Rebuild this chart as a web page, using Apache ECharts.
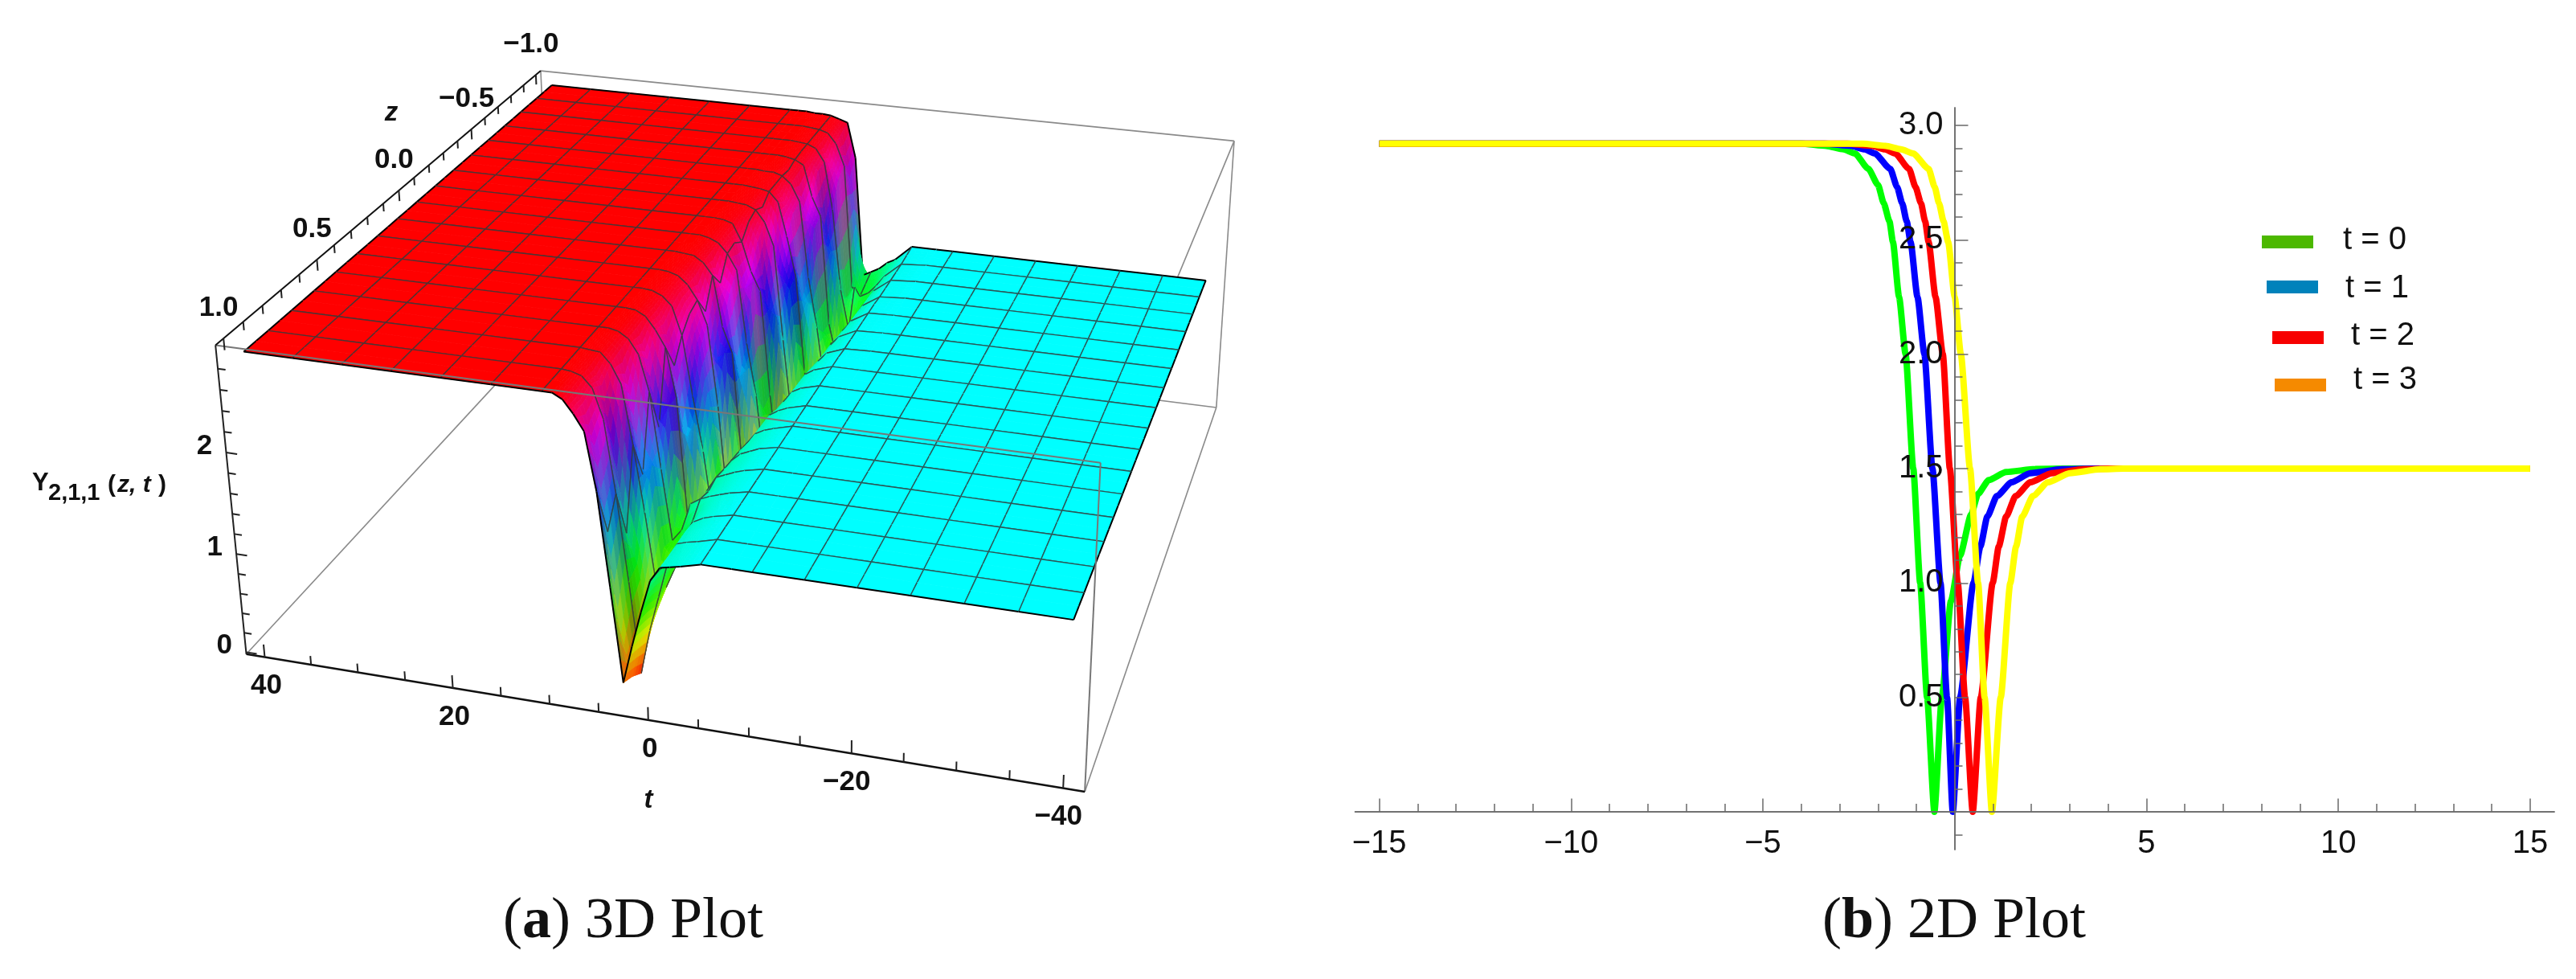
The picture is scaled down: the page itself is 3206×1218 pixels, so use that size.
<!DOCTYPE html>
<html>
<head>
<meta charset="utf-8">
<title>3D and 2D plot</title>
<script src="https://cdn.jsdelivr.net/npm/echarts@6/dist/echarts.min.js"></script>
<style>
  html, body { margin: 0; padding: 0; background: #fff; }
  #chart { width: 3206px; height: 1218px; }
</style>
</head>
<body>
<div id="chart"></div>
<script>
// ---- 2D plot values ----
const t0X = [-15, -4, -3.35, -2.9, -2.6, -2.25, -2.0, -1.85, -1.7, -1.61, -1.45, -1.28, -1.08, -0.9, -0.72, -0.53, -0.335, -0.1, 0.14, 0.43, 0.61, 0.89, 1.34, 2.1, 3, 15];
const t0Y = [2.92, 2.92, 2.91, 2.895, 2.877, 2.81, 2.74, 2.66, 2.58, 2.49, 2.25, 2.0, 1.5, 1.0, 0.5, 0, 0.5, 0.92, 1.12, 1.3, 1.39, 1.45, 1.485, 1.498, 1.5, 1.5];
const t1X = [-15, -3.4, -2.7, -2.35, -2.08, -1.68, -1.5, -1.37, -1.25, -1.15, -0.97, -0.79, -0.58, -0.37, -0.2, -0.05, 0.14, 0.49, 0.67, 0.85, 1.1, 1.48, 1.97, 2.8, 3.6, 15];
const t1Y = [2.92, 2.92, 2.91, 2.895, 2.877, 2.81, 2.73, 2.66, 2.58, 2.49, 2.25, 2.0, 1.5, 1.0, 0.5, 0, 0.5, 1.0, 1.16, 1.29, 1.38, 1.44, 1.48, 1.497, 1.5, 1.5];
const t2X = [-15, -2.8, -2.15, -1.82, -1.55, -1.19, -1.02, -0.88, -0.77, -0.68, -0.5, -0.31, -0.126, 0.08, 0.27, 0.47, 0.68, 0.99, 1.15, 1.34, 1.59, 1.97, 2.53, 3.37, 4, 15];
const t2Y = [2.92, 2.92, 2.91, 2.895, 2.877, 2.81, 2.73, 2.66, 2.58, 2.49, 2.25, 2.0, 1.5, 1.0, 0.5, 0, 0.5, 1.0, 1.16, 1.29, 1.38, 1.44, 1.48, 1.497, 1.5, 1.5];
const t3X = [-15, -2.4, -1.8, -1.4, -1.08, -0.68, -0.52, -0.41, -0.29, -0.17, 0, 0.16, 0.4, 0.61, 0.78, 0.97, 1.2, 1.45, 1.6, 1.76, 2.04, 2.43, 3.0, 3.8, 4.4, 15];
const t3Y = [2.92, 2.92, 2.91, 2.895, 2.877, 2.81, 2.73, 2.66, 2.58, 2.49, 2.25, 2.0, 1.5, 1.0, 0.5, 0, 0.5, 1.0, 1.16, 1.29, 1.38, 1.44, 1.48, 1.497, 1.5, 1.5];

const curveColors = ['#00ff00', '#0000ff', '#ff0000', '#ffff00'];
const legendNames = ['t = 0', 't = 1', 't = 2', 't = 3'];
const legendColors = ['#4cb800', '#0082bb', '#f70000', '#f58a00'];

const xMajorTicks = [-15, -10, -5, 5, 10, 15];
const xMinorTicks = [-14, -13, -12, -11, -9, -8, -7, -6, -4, -3, -2, -1, 1, 2, 3, 4, 6, 7, 8, 9, 11, 12, 13, 14];
const yMajorTicks = [0.5, 1, 1.5, 2, 2.5, 3];
const yMinorTicks = [-0.1, 0.1, 0.2, 0.3, 0.4, 0.6, 0.7, 0.8, 0.9, 1.1, 1.2, 1.3, 1.4, 1.6, 1.7, 1.8, 1.9, 2.1, 2.2, 2.3, 2.4, 2.6, 2.7, 2.8, 2.9];

// ---- 3D surface values ----
const plateauHigh = 2.92;
const plateauLow = 1.5;
const highT = [40, 35, 30, 25, 20, 15];
const wallT = [10, 9, 8, 7, 6, 5, 4, 3, 2, 1, 0, -1, -2, -3, -5, -8];
const lowT = [-10, -15, -20, -25, -30, -35, -40];
const meshT = [35, 30, 25, 20, 15, 10, 5, 0, -5, -10, -15, -20, -25, -30, -35];
const zRows = [1, 0.9375, 0.875, 0.8125, 0.75, 0.6875, 0.625, 0.5625, 0.5, 0.4375, 0.375, 0.3125, 0.25, 0.1875, 0.125, 0.0625, 0,
  -0.0625, -0.125, -0.1875, -0.25, -0.3125, -0.375, -0.4375, -0.5, -0.5625, -0.625, -0.6875, -0.75, -0.8125, -0.875, -0.9375, -1];
// one row per zRows entry, one column per wallT entry
const wallY = [
  [2.92, 2.92, 2.87, 2.75, 2.60, 2.05, 1.15, 0.22, 0.60, 0.95, 1.27, 1.41, 1.43, 1.45, 1.50, 1.50],
  [2.92, 2.92, 2.87, 2.74, 2.35, 1.55, 0.55, 0.15, 0.55, 0.92, 1.25, 1.40, 1.43, 1.45, 1.50, 1.50],
  [2.92, 2.91, 2.88, 2.78, 2.50, 1.80, 0.95, 0.05, 0.50, 0.85, 1.20, 1.40, 1.43, 1.45, 1.50, 1.50],
  [2.92, 2.91, 2.88, 2.70, 2.10, 1.30, 1.00, 0.40, 0.60, 0.90, 1.22, 1.40, 1.43, 1.46, 1.50, 1.50],
  [2.92, 2.91, 2.90, 2.80, 2.62, 2.05, 1.40, 0.68, 0.68, 0.90, 1.20, 1.38, 1.43, 1.46, 1.50, 1.50],
  [2.92, 2.91, 2.90, 2.82, 2.40, 1.65, 1.75, 0.95, 0.85, 1.05, 1.25, 1.38, 1.43, 1.46, 1.50, 1.50],
  [2.92, 2.92, 2.90, 2.84, 2.70, 2.35, 1.60, 0.90, 1.02, 1.30, 1.36, 1.40, 1.43, 1.46, 1.50, 1.50],
  [2.92, 2.92, 2.91, 2.85, 2.55, 1.90, 2.10, 1.20, 0.90, 1.15, 1.32, 1.39, 1.43, 1.46, 1.50, 1.50],
  [2.92, 2.92, 2.91, 2.86, 2.74, 2.58, 2.10, 0.78, 0.80, 1.20, 1.35, 1.39, 1.43, 1.46, 1.50, 1.50],
  [2.92, 2.92, 2.91, 2.86, 2.70, 2.30, 1.55, 1.75, 0.70, 1.05, 1.32, 1.39, 1.42, 1.46, 1.50, 1.50],
  [2.92, 2.92, 2.91, 2.87, 2.78, 2.50, 1.90, 1.35, 0.62, 1.00, 1.30, 1.38, 1.42, 1.46, 1.50, 1.50],
  [2.92, 2.92, 2.91, 2.88, 2.82, 2.62, 2.25, 1.70, 1.05, 0.80, 1.28, 1.38, 1.42, 1.45, 1.50, 1.50],
  [2.92, 2.92, 2.91, 2.88, 2.80, 2.66, 2.42, 1.60, 0.48, 0.85, 1.25, 1.37, 1.42, 1.45, 1.50, 1.50],
  [2.92, 2.92, 2.91, 2.89, 2.80, 2.45, 1.85, 2.05, 1.25, 0.45, 1.20, 1.36, 1.41, 1.45, 1.50, 1.50],
  [2.92, 2.92, 2.91, 2.90, 2.84, 2.72, 2.20, 1.95, 0.70, 0.32, 1.15, 1.35, 1.41, 1.45, 1.50, 1.50],
  [2.92, 2.92, 2.92, 2.90, 2.85, 2.55, 2.45, 1.60, 1.70, 0.55, 1.00, 1.30, 1.40, 1.45, 1.50, 1.50],
  [2.92, 2.92, 2.92, 2.90, 2.86, 2.76, 2.60, 1.85, 1.30, 0.35, 0.85, 1.28, 1.40, 1.45, 1.50, 1.50],
  [2.92, 2.92, 2.92, 2.91, 2.87, 2.78, 2.30, 2.40, 1.05, 0.85, 0.60, 1.22, 1.39, 1.44, 1.50, 1.50],
  [2.92, 2.92, 2.92, 2.91, 2.88, 2.70, 2.40, 2.20, 1.10, 0.25, 0.90, 1.20, 1.38, 1.44, 1.50, 1.50],
  [2.92, 2.92, 2.92, 2.91, 2.89, 2.82, 2.62, 1.95, 1.85, 0.75, 0.55, 1.15, 1.35, 1.43, 1.50, 1.50],
  [2.92, 2.92, 2.92, 2.91, 2.90, 2.86, 2.74, 2.50, 1.50, 0.60, 0.50, 1.10, 1.32, 1.42, 1.49, 1.50],
  [2.92, 2.92, 2.92, 2.91, 2.90, 2.80, 2.50, 2.10, 1.95, 1.20, 0.30, 1.05, 1.31, 1.41, 1.49, 1.50],
  [2.92, 2.92, 2.92, 2.91, 2.90, 2.88, 2.78, 2.42, 2.00, 0.95, 0.40, 0.95, 1.30, 1.40, 1.49, 1.50],
  [2.92, 2.92, 2.92, 2.91, 2.90, 2.88, 2.70, 2.58, 1.65, 1.60, 0.85, 0.70, 1.28, 1.39, 1.49, 1.50],
  [2.92, 2.92, 2.92, 2.91, 2.91, 2.88, 2.80, 2.62, 1.80, 1.25, 0.55, 0.80, 1.25, 1.38, 1.49, 1.50],
  [2.92, 2.92, 2.92, 2.92, 2.91, 2.86, 2.82, 2.35, 2.25, 1.10, 1.00, 0.65, 1.22, 1.37, 1.49, 1.50],
  [2.92, 2.92, 2.92, 2.92, 2.91, 2.89, 2.84, 2.50, 2.30, 1.10, 0.70, 0.85, 1.20, 1.36, 1.48, 1.50],
  [2.92, 2.92, 2.92, 2.92, 2.91, 2.90, 2.82, 2.70, 1.90, 1.75, 0.95, 0.80, 1.18, 1.35, 1.48, 1.50],
  [2.92, 2.92, 2.92, 2.92, 2.91, 2.90, 2.86, 2.72, 2.20, 1.30, 0.85, 1.00, 1.15, 1.34, 1.48, 1.50],
  [2.92, 2.92, 2.92, 2.92, 2.91, 2.90, 2.85, 2.62, 2.45, 1.10, 1.25, 0.95, 1.18, 1.33, 1.48, 1.50],
  [2.92, 2.92, 2.92, 2.92, 2.91, 2.90, 2.87, 2.76, 2.52, 1.15, 1.05, 1.10, 1.20, 1.32, 1.48, 1.50],
  [2.92, 2.92, 2.92, 2.92, 2.91, 2.90, 2.88, 2.80, 2.30, 1.60, 1.10, 1.12, 1.24, 1.33, 1.49, 1.50],
  [2.92, 2.92, 2.92, 2.91, 2.91, 2.90, 2.87, 2.84, 2.45, 1.10, 1.15, 1.20, 1.28, 1.33, 1.50, 1.50]
];

const tTickMajor = [40, 20, 0, -20, -40];
const tTickMinor = [35, 30, 25, 15, 10, 5, -5, -10, -15, -25, -30, -35];
const zTickMajor = [1, 0.5, 0, -0.5, -1];
const zTickMinor = [0.9, 0.8, 0.7, 0.6, 0.4, 0.3, 0.2, 0.1, -0.1, -0.2, -0.3, -0.4, -0.6, -0.7, -0.8, -0.9];
const yTickMajor = [0, 1, 2];
const yTickMinor = [0.2, 0.4, 0.6, 0.8, 1.2, 1.4, 1.6, 1.8, 2.2, 2.4, 2.6, 2.8];

// ---- view box of the 3D plot: data limits and where the corners land on the page ----
const boxT = 42;
const boxZ = 1.04;
const boxYMin = -0.02;
const boxYMax = 3.02;
const boxCorners = [
  [boxT, boxZ, boxYMax, 269.6, 429.9],
  [boxT, -boxZ, boxYMax, 670.5, 90],
  [-boxT, -boxZ, boxYMax, 1537.5, 174.8],
  [-boxT, boxZ, boxYMax, 1369.6, 573.4],
  [boxT, boxZ, boxYMin, 305.4, 815.7],
  [boxT, -boxZ, boxYMin, 689, 399],
  [-boxT, -boxZ, boxYMin, 1512.5, 509.6],
  [-boxT, boxZ, boxYMin, 1350, 984.7]
];

// least squares fit of a perspective camera through the box corners
function fitCamera(corners) {
  const rows = [];
  const rhs = [];
  corners.forEach(c => {
    const u = c[0] / boxT, v = c[1] / boxZ, w = c[2] / 3, x = c[3] / 1000, y = c[4] / 1000;
    rows.push([u, v, w, 1, 0, 0, 0, 0, -x * u, -x * v, -x * w]);
    rhs.push(x);
    rows.push([0, 0, 0, 0, u, v, w, 1, -y * u, -y * v, -y * w]);
    rhs.push(y);
  });
  const n = 11;
  const m = [];
  for (let i = 0; i < n; i++) {
    m.push([]);
    for (let j = 0; j <= n; j++) {
      let s = 0;
      rows.forEach((r, k) => { s += r[i] * (j === n ? rhs[k] : r[j]); });
      m[i].push(s);
    }
  }
  for (let i = 0; i < n; i++) {
    let p = i;
    for (let k = i + 1; k < n; k++) if (Math.abs(m[k][i]) > Math.abs(m[p][i])) p = k;
    const tmp = m[i]; m[i] = m[p]; m[p] = tmp;
    for (let k = 0; k < n; k++) {
      if (k === i) continue;
      const f = m[k][i] / m[i][i];
      for (let j = i; j <= n; j++) m[k][j] -= f * m[i][j];
    }
  }
  return m.map((r, i) => r[n] / r[i]);
}
const cam = fitCamera(boxCorners);

function project(t, z, y) {
  const u = t / boxT, v = z / boxZ, w = y / 3;
  const d = cam[8] * u + cam[9] * v + cam[10] * w + 1;
  return [
    1000 * (cam[0] * u + cam[1] * v + cam[2] * w + cam[3]) / d,
    1000 * (cam[4] * u + cam[5] * v + cam[6] * w + cam[7]) / d
  ];
}

// full surface table
const tGrid = highT.concat(wallT, lowT);
const surfaceY = wallY.map(row => highT.map(() => plateauHigh).concat(row, lowT.map(() => plateauLow)));

function hsvToRgb(h, v) {
  const i = Math.floor(h * 6) % 6;
  const f = h * 6 - Math.floor(h * 6);
  const q = 1 - f;
  const rgb = [[1, f, 0], [q, 1, 0], [0, 1, f], [0, q, 1], [f, 0, 1], [1, 0, q]][i];
  return rgb.map(c => c * 255 * v);
}

// hue runs with the height, red at the top plateau and at the floor, cyan at the low plateau
function vertexColor(r, c) {
  const y = surfaceY[r][c];
  let h = y < plateauLow ? y / 3 : 0.5 + (y - plateauLow) / (plateauHigh - plateauLow) * 0.5;
  h = Math.min(0.9999, Math.max(0, h));
  const a = surfaceY[r][Math.max(0, c - 1)], b = surfaceY[r][Math.min(tGrid.length - 1, c + 1)];
  const da = tGrid[Math.max(0, c - 1)] - tGrid[Math.min(tGrid.length - 1, c + 1)];
  const slope = Math.abs(a - b) / da;
  return hsvToRgb(h, 1 - 0.25 * Math.min(1, slope / 1.2));
}

const surfaceCells = [];
for (let c = 0; c < tGrid.length - 1; c++) {
  for (let r = zRows.length - 2; r >= 0; r--) surfaceCells.push([c, r]);
}

function renderCell(params, api) {
  const c = api.value(0), r = api.value(1);
  const t0 = tGrid[c], t1 = tGrid[c + 1];
  const z0 = zRows[r], z1 = zRows[r + 1];
  const y00 = surfaceY[r][c], y10 = surfaceY[r][c + 1], y01 = surfaceY[r + 1][c], y11 = surfaceY[r + 1][c + 1];
  const px = (a, b) => {
    const y = y00 * (1 - a) * (1 - b) + y10 * a * (1 - b) + y01 * (1 - a) * b + y11 * a * b;
    return api.coord(project(t0 + (t1 - t0) * a, z0 + (z1 - z0) * b, y));
  };
  const c00 = vertexColor(r, c), c10 = vertexColor(r, c + 1), c01 = vertexColor(r + 1, c), c11 = vertexColor(r + 1, c + 1);
  const flat = y00 === y10 && y00 === y01 && y00 === y11;
  const na = flat ? 1 : 4, nb = flat ? 1 : 3;
  const children = [];
  for (let i = 0; i < na; i++) {
    for (let j = 0; j < nb; j++) {
      const a = (i + 0.5) / na, b = (j + 0.5) / nb;
      const col = [0, 1, 2].map(k => Math.round(c00[k] * (1 - a) * (1 - b) + c10[k] * a * (1 - b) + c01[k] * (1 - a) * b + c11[k] * a * b));
      const fill = 'rgb(' + col.join(',') + ')';
      children.push({
        type: 'polygon',
        shape: { points: [px(i / na, j / nb), px((i + 1) / na, j / nb), px((i + 1) / na, (j + 1) / nb), px(i / na, (j + 1) / nb)] },
        style: { fill: fill, stroke: fill, lineWidth: 0.8 }
      });
    }
  }
  // mesh lines and the black rim of the sheet, mesh on every second z row
  const edge = (p, q, rim) => children.push({
    type: 'line',
    shape: { x1: p[0], y1: p[1], x2: q[0], y2: q[1] },
    style: rim ? { stroke: '#000', lineWidth: 2 } : { stroke: 'rgba(50,60,60,0.85)', lineWidth: 1.4 }
  });
  const steps = [];
  if (meshT.includes(t0) || c === 0) steps.push([0, c === 0]);
  if (meshT.includes(t1) || c === tGrid.length - 2) steps.push([1, c === tGrid.length - 2]);
  steps.forEach(s => edge(px(s[0], 0), px(s[0], 1), s[1]));
  if (r % 2 === 0) edge(px(0, 0), px(1, 0), r === 0);
  if ((r + 1) % 2 === 0) edge(px(0, 1), px(1, 1), r === zRows.length - 2);
  return { type: 'group', children: children };
}

// ---- box edges and ticks, drawn through the same projection ----
const backEdges = [
  [[boxT, -boxZ, boxYMax], [-boxT, -boxZ, boxYMax]],
  [[-boxT, -boxZ, boxYMax], [-boxT, boxZ, boxYMax]],
  [[-boxT, -boxZ, boxYMax], [-boxT, -boxZ, boxYMin]],
  [[boxT, -boxZ, boxYMax], [boxT, -boxZ, boxYMin]],
  [[boxT, -boxZ, boxYMin], [-boxT, -boxZ, boxYMin]],
  [[boxT, boxZ, boxYMin], [boxT, -boxZ, boxYMin]],
  [[-boxT, -boxZ, boxYMin], [-boxT, boxZ, boxYMin]]
];
const frontEdges = [
  [[boxT, boxZ, boxYMax], [-boxT, boxZ, boxYMax], '#777', 2],
  [[-boxT, boxZ, boxYMax], [-boxT, boxZ, boxYMin], '#777', 2],
  [[boxT, boxZ, boxYMax], [boxT, -boxZ, boxYMax], '#111', 2],
  [[boxT, boxZ, boxYMax], [boxT, boxZ, boxYMin], '#222', 2],
  [[boxT, boxZ, boxYMin], [-boxT, boxZ, boxYMin], '#111', 2.5]
];
const tickSegments = [];
tTickMajor.forEach(t => tickSegments.push([[t, boxZ, boxYMin], [t, boxZ, boxYMin + 0.13]]));
tTickMinor.forEach(t => tickSegments.push([[t, boxZ, boxYMin], [t, boxZ, boxYMin + 0.09]]));
zTickMajor.forEach(z => tickSegments.push([[boxT, z, boxYMax], [boxT, z, boxYMax - 0.11]]));
zTickMinor.forEach(z => tickSegments.push([[boxT, z, boxYMax], [boxT, z, boxYMax - 0.08]]));
yTickMajor.forEach(y => tickSegments.push([[boxT, boxZ, y], [boxT - 1.15, boxZ, y]]));
yTickMinor.forEach(y => tickSegments.push([[boxT, boxZ, y], [boxT - 0.8, boxZ, y]]));

function segmentSeries(list, defaultColor, defaultWidth, z) {
  return {
    type: 'custom', xAxisIndex: 0, yAxisIndex: 0, clip: false, silent: true, z: z, animation: false,
    data: list.map((s, i) => [i, 0]),
    renderItem(params, api) {
      const s = list[api.value(0)];
      const p = api.coord(project(s[0][0], s[0][1], s[0][2]));
      const q = api.coord(project(s[1][0], s[1][1], s[1][2]));
      return {
        type: 'line',
        shape: { x1: p[0], y1: p[1], x2: q[0], y2: q[1] },
        style: { stroke: s[2] || defaultColor, lineWidth: s[3] || defaultWidth }
      };
    }
  };
}

const minusText = v => (v < 0 ? '\u2212' + Math.abs(v) : String(v));
const fixedText = v => (v < 0 ? '\u2212' + Math.abs(v).toFixed(1) : v.toFixed(1));
const tickLabels = [];
tTickMajor.forEach(t => tickLabels.push([minusText(t), t, boxZ, boxYMin, t < 0 ? -6 : 2, 36]));
zTickMajor.forEach(z => tickLabels.push([fixedText(z), boxT, z, boxYMax, -6, -38]));
yTickMajor.forEach(y => tickLabels.push([String(y), boxT, boxZ, y, -27, -8]));

const labelSeries = {
  type: 'custom', xAxisIndex: 0, yAxisIndex: 0, clip: false, silent: true, z: 6, animation: false,
  data: tickLabels.map((s, i) => [i, 0]),
  renderItem(params, api) {
    const s = tickLabels[api.value(0)];
    const p = api.coord(project(s[1], s[2], s[3]));
    return {
      type: 'text',
      style: {
        x: p[0] + s[4], y: p[1] + s[5], text: s[0], fill: '#111', align: 'center', verticalAlign: 'middle',
        font: 'bold 35px "Liberation Sans", Arial, sans-serif'
      }
    };
  }
};

// ---- 2D plot position ----
const plotLeft = 1686.5, plotRight = 3179, plotTop = 134, plotZero = 1010, plotBottom = 1057, plotCentre = 2432.5;
const xLimit = 15.63, yMin = -0.165, yMax = 3.077;
const axisGray = '#6a6a6a';
const labelFont = '"Liberation Sans", Arial, sans-serif';
const axisLineStyle = { show: true, onZero: false, lineStyle: { color: axisGray, width: 1.5 } };

const curves = [[t0X, t0Y], [t1X, t1Y], [t2X, t2Y], [t3X, t3Y]];

const legendGraphics = [];
const legendBoxes = [[2815, 293], [2821, 349], [2828, 412], [2831, 471]];
const legendTexts = [[2916, 299], [2919, 359], [2926, 418], [2929, 473]];
legendNames.forEach((name, i) => {
  legendGraphics.push({
    type: 'rect', x: legendBoxes[i][0], y: legendBoxes[i][1], shape: { width: 64, height: 16 },
    style: { fill: legendColors[i] }
  });
  legendGraphics.push({
    type: 'text', x: legendTexts[i][0], y: legendTexts[i][1],
    style: { text: name, fill: '#111', font: '40px ' + labelFont, verticalAlign: 'middle' }
  });
});

const captionFont = '72px "Liberation Serif", serif';
const captionRich = { b: { font: 'bold 72px "Liberation Serif", serif', fill: '#111' } };

const chart = echarts.init(document.getElementById('chart'), null, { renderer: 'canvas' });
chart.setOption({
  animation: false,
  backgroundColor: '#fff',
  grid: [
    // page sized grid for the projected 3D plot
    { left: 0, top: 0, width: 3206, height: 1218 },
    // curves and the x axis, bottom edge on y = 0
    { left: plotLeft, top: plotTop, width: plotRight - plotLeft, height: plotZero - plotTop },
    // the y axis, left edge on x = 0 and running a bit below y = 0
    { left: plotCentre, top: plotTop, width: plotRight - plotCentre, height: plotBottom - plotTop }
  ],
  xAxis: [
    { type: 'value', gridIndex: 0, min: 0, max: 3206, show: false },
    {
      type: 'value', gridIndex: 1, min: -xLimit, max: xLimit, position: 'bottom', z: 8,
      splitLine: { show: false }, axisLine: axisLineStyle,
      axisTick: { show: true, inside: true, length: 16.5, customValues: xMajorTicks, lineStyle: { color: axisGray, width: 1.5 } },
      axisLabel: {
        show: true, customValues: xMajorTicks, margin: 20, color: '#111', fontSize: 40, fontFamily: labelFont,
        formatter: minusText
      }
    },
    {
      type: 'value', gridIndex: 1, min: -xLimit, max: xLimit, position: 'bottom', z: 8,
      splitLine: { show: false }, axisLine: axisLineStyle,
      axisTick: { show: true, inside: true, length: 10, customValues: xMinorTicks, lineStyle: { color: axisGray, width: 1.5 } },
      axisLabel: { show: false }
    },
    { type: 'value', gridIndex: 2, min: 0, max: 1, show: false }
  ],
  yAxis: [
    { type: 'value', gridIndex: 0, min: 0, max: 1218, inverse: true, show: false },
    { type: 'value', gridIndex: 1, min: 0, max: yMax, show: false },
    {
      type: 'value', gridIndex: 2, min: yMin, max: yMax, position: 'left', z: 8,
      splitLine: { show: false }, axisLine: axisLineStyle,
      axisTick: { show: true, inside: true, length: 17, customValues: yMajorTicks, lineStyle: { color: axisGray, width: 1.5 } },
      axisLabel: {
        show: true, customValues: yMajorTicks, margin: 14, color: '#111', fontSize: 40, fontFamily: labelFont,
        formatter: v => v.toFixed(1)
      }
    },
    {
      type: 'value', gridIndex: 2, min: yMin, max: yMax, position: 'left', z: 8,
      splitLine: { show: false }, axisLine: axisLineStyle,
      axisTick: { show: true, inside: true, length: 10, customValues: yMinorTicks, lineStyle: { color: axisGray, width: 1.5 } },
      axisLabel: { show: false }
    }
  ],
  graphic: legendGraphics.concat([
    { type: 'text', x: 40, y: 617, style: { text: 'Y', fill: '#111', font: 'bold 31px ' + labelFont, verticalAlign: 'bottom' } },
    { type: 'text', x: 60, y: 628, style: { text: '2,1,1', fill: '#111', font: 'bold 29px ' + labelFont, verticalAlign: 'bottom' } },
    { type: 'text', x: 134, y: 619, style: { text: '(', fill: '#111', font: 'bold 30px ' + labelFont, verticalAlign: 'bottom' } },
    { type: 'text', x: 146, y: 619, style: { text: 'z, t', fill: '#111', font: 'italic bold 30px ' + labelFont, verticalAlign: 'bottom' } },
    { type: 'text', x: 197, y: 619, style: { text: ')', fill: '#111', font: 'bold 30px ' + labelFont, verticalAlign: 'bottom' } },
    { type: 'text', x: 807, y: 996, style: { text: 't', fill: '#111', font: 'italic bold 33px ' + labelFont, align: 'center', verticalAlign: 'middle' } },
    { type: 'text', x: 487, y: 141, style: { text: 'z', fill: '#111', font: 'italic bold 33px ' + labelFont, align: 'center', verticalAlign: 'middle' } },
    { type: 'text', x: 626, y: 1147, style: { text: '({b|a}) 3D Plot', fill: '#111', font: captionFont, verticalAlign: 'middle', rich: captionRich } },
    { type: 'text', x: 2268, y: 1147, style: { text: '({b|b}) 2D Plot', fill: '#111', font: captionFont, verticalAlign: 'middle', rich: captionRich } }
  ]),
  series: [
    segmentSeries(backEdges, '#8a8a8a', 1.6, 1),
    {
      type: 'custom', xAxisIndex: 0, yAxisIndex: 0, clip: false, silent: true, z: 2, animation: false,
      progressive: 0,
      data: surfaceCells,
      renderItem: renderCell
    },
    segmentSeries(frontEdges, '#777', 2, 3),
    segmentSeries(tickSegments, '#222', 2, 3),
    labelSeries
  ].concat(curves.map((pair, i) => ({
    name: legendNames[i],
    type: 'line',
    xAxisIndex: 1,
    yAxisIndex: 1,
    z: 3,
    showSymbol: false,
    silent: true,
    smooth: 0.2,
    smoothMonotone: 'x',
    data: pair[0].map((x, k) => [x, pair[1][k]]),
    lineStyle: { color: curveColors[i], width: 8 }
  })))
});
</script>
</body>
</html>
